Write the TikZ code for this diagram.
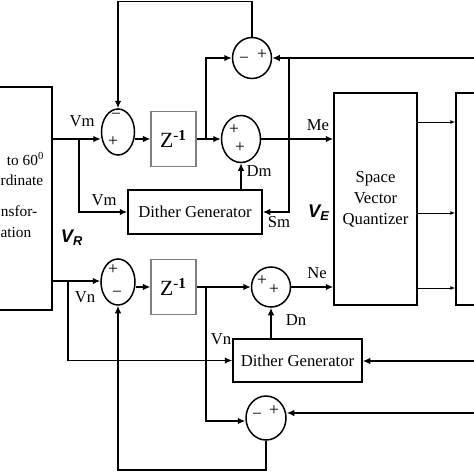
\documentclass[tikz,border=0pt]{standalone}
\usepackage{fontspec}
\setmainfont{Liberation Serif}
\newfontfamily\vfont{Liberation Sans}
\usepackage{tikz}
\usetikzlibrary{arrows.meta}
\usetikzlibrary{shapes.geometric}
\usetikzlibrary{positioning}

\tikzset{
  sumnode/.style={draw, ellipse, inner sep=0pt},
  blk/.style={draw, rectangle, inner sep=0pt},
  delay/.style={draw=gray, rectangle, inner sep=0pt, line width=0.7pt,
    minimum width=27pt, minimum height=33pt, font=\fontsize{13}{15}\selectfont},
  sgn/.style={inner sep=0pt, font=\fontsize{10.5}{12}\selectfont},
  lbl/.style={inner sep=0pt},
  xftext/.style={inner sep=0pt, anchor=east, font=\fontsize{9.2}{11}\selectfont},
  vlbl/.style={inner sep=0pt, font=\vfont\bfseries\itshape\fontsize{11}{13}\selectfont},
}

\begin{document}
\begin{tikzpicture}[x=0.6pt, y=-0.6pt, line width=0.9pt, >={Latex[length=4.5pt,width=4pt]}]
\useasboundingbox (0,0) rectangle (474,474);
\clip (0,0) rectangle (474,474);

\node[blk, minimum width=67.2pt, minimum height=133.8pt] (xf) at (-4,198.5) {};
\node[xftext] (xfa) at (45,159) {to 60\textsuperscript{0}};
\node[xftext] (xfb) at (44,180) {rdinate};
\node[xftext] (xfc) at (38,211) {nsfor-};
\node[xftext] (xfd) at (32,232) {ation};

\node[sumnode, minimum width=19.8pt, minimum height=27.6pt] (c1) at (118,132) {};
\node[sumnode, minimum width=23.4pt, minimum height=28.2pt] (c2) at (241,139) {};
\node[sumnode, minimum width=23.4pt, minimum height=24.6pt] (c3) at (252,58) {};
\node[sumnode, minimum width=20.4pt, minimum height=27.6pt] (c4) at (118,282) {};
\node[sumnode, minimum width=23.4pt, minimum height=24pt] (c5) at (271,287) {};
\node[sumnode, minimum width=24pt, minimum height=26.4pt] (c6) at (266,418) {};

\node[sgn] (c1a) at (116,116) {−};
\node[sgn] (c1b) at (113,142) {+};
\node[sgn] (c2a) at (234,130) {+};
\node[sgn] (c2b) at (240,148) {+};
\node[sgn] (c3a) at (244,60) {−};
\node[sgn] (c3b) at (262,55) {+};
\node[sgn] (c4a) at (113,270) {+};
\node[sgn] (c4b) at (117,294) {−};
\node[sgn] (c5a) at (262,281) {+};
\node[sgn] (c5b) at (274,290) {+};
\node[sgn] (c6a) at (257,416) {−};
\node[sgn] (c6b) at (274,411) {+};

\node[delay] (z1) at (173.5,139) {Z\textsuperscript{-\textbf{1}}};
\node[delay] (z2) at (173.5,287) {Z\textsuperscript{-\textbf{1}}};
\node[blk, minimum width=80.4pt, minimum height=26.4pt] (dg1) at (195,212) {Dither Generator};
\node[blk, minimum width=77.4pt, minimum height=25.8pt] (dg2) at (297.5,360.5) {Dither Generator};
\node[blk, minimum width=49.8pt, minimum height=127.2pt, align=center,
  font=\fontsize{10}{12.6}\selectfont] (svq) at (375.5,199) {Space\\ Vector\\ Quantizer};
\node[blk, minimum width=49.2pt, minimum height=127.2pt] (out) at (497,199) {};

\node[lbl] (vm1) at (82,121) {Vm};
\node[lbl] (vm2) at (104,200) {Vm};
\node[lbl] (vn1) at (85,297) {Vn};
\node[lbl] (vn2) at (221,339) {Vn};
\node[lbl] (me) at (318,125) {Me};
\node[lbl] (ne) at (317,273) {Ne};
\node[lbl] (dm) at (259,171) {Dm};
\node[lbl] (dn) at (296,320) {Dn};
\node[lbl] (sm) at (279,222) {Sm};
\node[vlbl] (vr) at (72,238) {V\textsubscript{R}};
\node[vlbl] (ve) at (319,213) {V\textsubscript{E}};

\coordinate (jm) at (79,139);
\coordinate (jn) at (68,281);
\coordinate (ja) at (206,139);
\coordinate (jb) at (206,287);
\coordinate (js) at (289,58);
\coordinate (rs) at (474,58);
\coordinate (rd) at (474,361);
\coordinate (rb) at (474,413);
\coordinate (top) at (0,1.5);
\coordinate (bot) at (0,470);

\draw[->] (xf.east |- jm) -- (c1.west |- jm);
\draw[->] (jm) |- (dg1.west);
\draw[->] (c1.east |- z1.west) -- (z1.west);
\draw (z1.east) -- (ja);
\draw[->] (ja) -- (c2.west);
\draw[->] (ja) |- (c3.west);
\draw[->] (rs) -- (c3.east);
\draw[->] (js) |- (dg1.east);
\draw[->] (c3.north) -- (c3.north |- top) -| (c1.north);
\draw[->] (c2.south |- dg1.north) -- (c2.south);
\draw[->] (c2.east) -- (c2.east -| svq.west);

\draw[->] (xf.east |- jn) -- (c4.west |- jn);
\draw[->] (jn) |- (dg2.west);
\draw[->] (c4.east |- z2.west) -- (z2.west);
\draw (z2.east) -- (jb);
\draw[->] (jb) -- (c5.west);
\draw[->] (jb) |- ([yshift=-1.8pt]c6.west);
\draw[->] (rb) -- (rb -| c6.east);
\draw[->] (rd) -- (rd -| dg2.east);
\draw[->] (c5.south |- dg2.north) -- (c5.south);
\draw[->] (c5.east) -- (c5.east -| svq.west);
\draw[->] (c6.south) -- (c6.south |- bot) -| (c4.south);

\foreach \y in {122,213,288}
  \draw[-{Latex[length=3pt,width=2.4pt]}, line width=0.6pt] (svq.east |- 0,\y) -- (out.west |- 0,\y);
\end{tikzpicture}
\end{document}
